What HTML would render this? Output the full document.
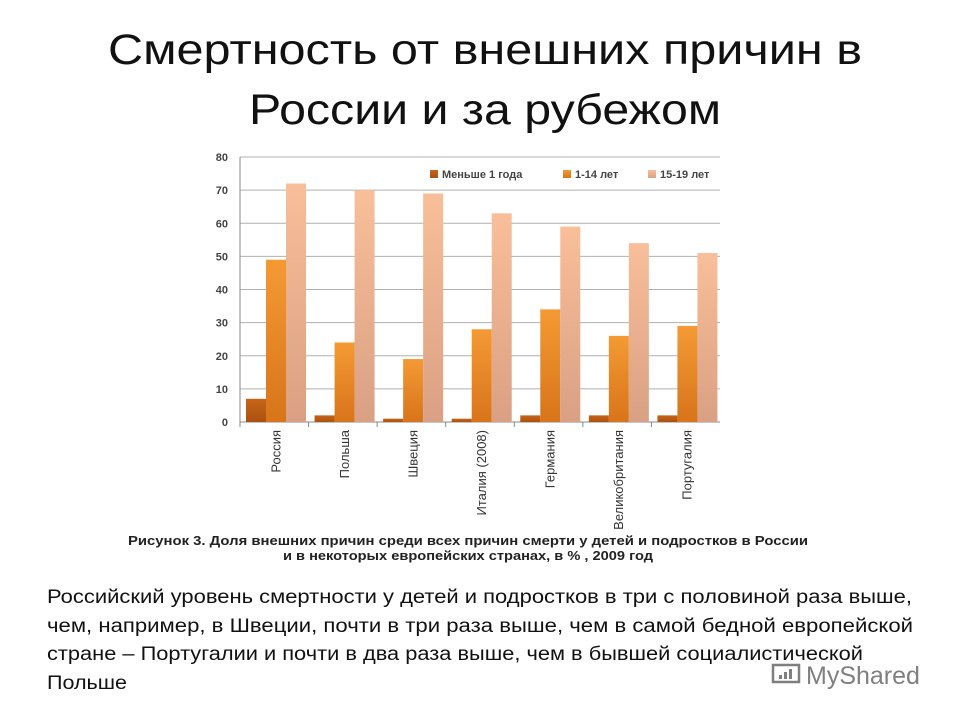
<!DOCTYPE html>
<html><head><meta charset="utf-8">
<style>
html,body{margin:0;padding:0;background:#fff;width:960px;height:720px;overflow:hidden}
svg{display:block;font-family:"Liberation Sans","Noto Sans CJK SC",sans-serif}
</style></head>
<body>
<svg id="s" width="960" height="720" viewBox="0 0 960 720" xmlns="http://www.w3.org/2000/svg">
<defs>
<linearGradient id="g1" x1="0" y1="0" x2="0" y2="1"><stop offset="0" stop-color="#c8641a"/><stop offset="1" stop-color="#a9520f"/></linearGradient>
<linearGradient id="g2" x1="0" y1="0" x2="0" y2="1"><stop offset="0" stop-color="#f49a34"/><stop offset="1" stop-color="#d8741a"/></linearGradient>
<linearGradient id="g3" x1="0" y1="0" x2="0" y2="1"><stop offset="0" stop-color="#f9bf9a"/><stop offset="1" stop-color="#d9a083"/></linearGradient>
</defs>
<text x="485" y="64" font-size="43" text-anchor="middle" fill="#111" textLength="754" lengthAdjust="spacingAndGlyphs">Смертность от внешних причин в</text>
<text x="485" y="124" font-size="43" text-anchor="middle" fill="#111" textLength="472" lengthAdjust="spacingAndGlyphs">России и за рубежом</text>
<g id="chart"></g>
<text x="468" y="545" font-size="12.5" font-weight="bold" text-anchor="middle" fill="#222" textLength="680" lengthAdjust="spacingAndGlyphs">Рисунок 3. Доля внешних причин среди всех причин смерти у детей и подростков в России</text>
<text x="468" y="560" font-size="12.5" font-weight="bold" text-anchor="middle" fill="#222" textLength="370" lengthAdjust="spacingAndGlyphs">и в некоторых европейских странах, в % , 2009 год</text>
<g font-size="19" fill="#111">
<text x="47" y="603" textLength="865" lengthAdjust="spacingAndGlyphs">Российский уровень смертности у детей и подростков в три с половиной раза выше,</text>
<text x="47" y="632" textLength="866" lengthAdjust="spacingAndGlyphs">чем, например, в Швеции, почти в три раза выше, чем в самой бедной европейской</text>
<text x="47" y="660" textLength="816" lengthAdjust="spacingAndGlyphs">стране – Португалии и почти в два раза выше, чем в бывшей социалистической</text>
<text x="47" y="689" textLength="80" lengthAdjust="spacingAndGlyphs">Польше</text>
</g>
<g opacity="0.75">
<rect x="773" y="665" width="26" height="17" fill="none" stroke="#555" stroke-width="2.5"/>
<rect x="779" y="675" width="3" height="4" fill="#555"/><rect x="784" y="672" width="3" height="7" fill="#555"/><rect x="789" y="669" width="3" height="10" fill="#555"/>
<text x="806" y="684" font-size="25" fill="#555">MyShared</text>
</g>
</svg>
<script>
const categories = ["Россия","Польша","Швеция","Италия (2008)","Германия","Великобритания","Португалия"];
const seriesNames = ["Меньше 1 года","1-14 лет","15-19 лет"];
const under1 = [7,2,1,1,2,2,2];
const age1to14 = [49,24,19,28,34,26,29];
const age15to19 = [72,70,69,63,59,54,51];
const yTicks = [0,10,20,30,40,50,60,70,80];

const NS="http://www.w3.org/2000/svg";
const g=document.getElementById('chart');
const X0=240,X1=720,Y0=422,Y1=157,YMAX=80;
const gw=(X1-X0)/categories.length, bw=20, off=6;
function y(v){return Y0-(v/YMAX)*(Y0-Y1);}
function mk(t,a){const e=document.createElementNS(NS,t);for(const k in a)e.setAttribute(k,a[k]);g.appendChild(e);return e;}
yTicks.forEach(t=>{
  const l=mk('line',{x1:X0,x2:X1,y1:y(t),y2:y(t),stroke:t===0?'#888':'#b0b0b0','stroke-width':1});
  
  
  const tx=mk('text',{x:X0-12,y:y(t)+4,'font-size':11,'font-weight':'bold','text-anchor':'end',fill:'#444'});
  tx.textContent=t;
  
  
});
const ax=mk('line',{x1:X0,x2:X0,y1:Y1,y2:Y0,stroke:'#888'});


const series=[under1,age1to14,age15to19], fills=['url(#g1)','url(#g2)','url(#g3)'];
categories.forEach((c,i)=>{
  const gx=X0+gw*i;
  const tk=mk('line',{x1:gx,x2:gx,y1:Y0,y2:Y0+5,stroke:'#888'});
  
  
  series.forEach((s,k)=>{
    const r=mk('rect',{x:gx+off+k*bw,y:y(s[i]),width:bw,height:Y0-y(s[i]),fill:fills[k]});
    
    
  });
  const cx=gx+gw/2+6;
  const lab=mk('text',{x:0,y:0,'font-size':13,'text-anchor':'end',fill:'#333',transform:`translate(${cx},430) rotate(-90)`});
  lab.textContent=c;
  
  
});
const lx=[430,563,648];
seriesNames.forEach((n,k)=>{
  const sq=mk('rect',{x:lx[k],y:170,width:8,height:8,fill:fills[k]});
  
  
  const t=mk('text',{x:lx[k]+12,y:178,'font-size':11,'font-weight':'bold',fill:'#444'});
  t.textContent=n;
  
  
});
</script>
</body></html>
